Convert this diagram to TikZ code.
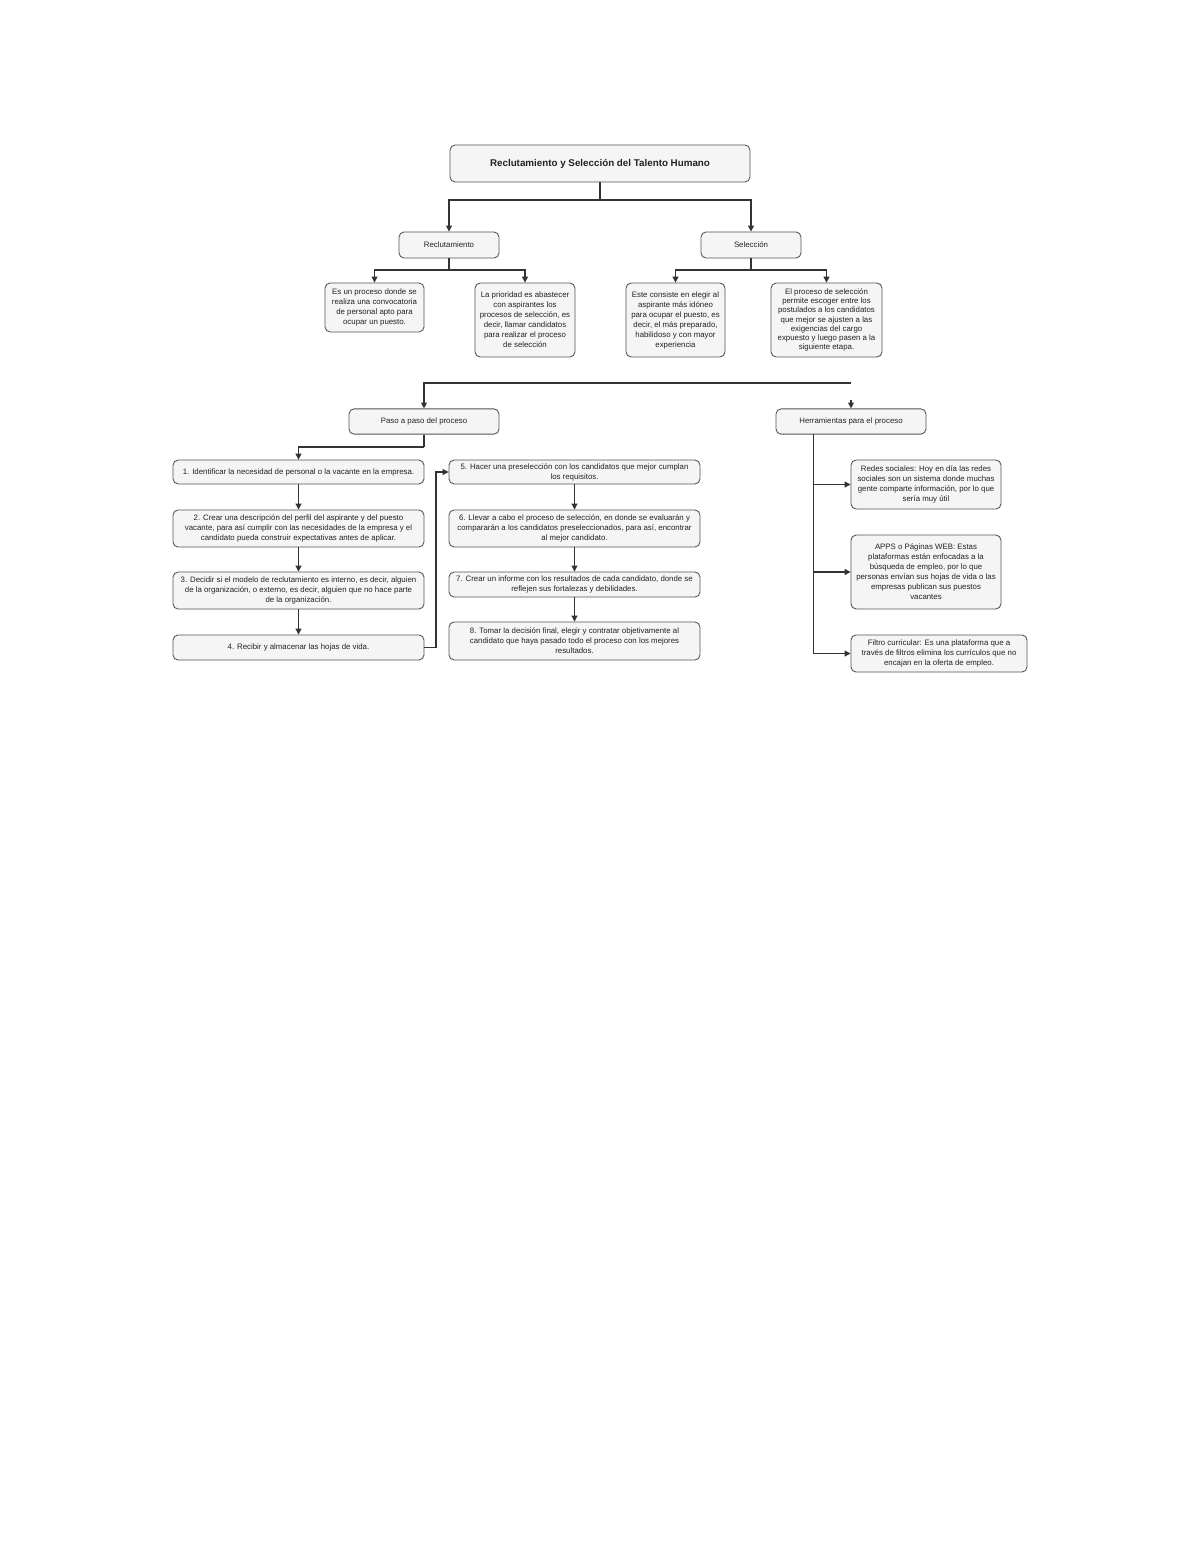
\documentclass[tikz,border=0pt]{standalone}
\usepackage{fontspec}
\setmainfont{Liberation Sans}
\usetikzlibrary{arrows.meta,calc}
\definecolor{boxfill}{HTML}{F5F5F5}
\definecolor{boxline}{HTML}{555555}
\definecolor{lncol}{HTML}{333333}
\definecolor{txtcol}{HTML}{222222}
\tikzset{
  pbox/.style={draw=boxline, fill=boxfill, rounded corners=2.6pt, line width=0.45pt,
    align=center, text=txtcol, inner sep=1pt, font=\fontsize{4}{5.1}\selectfont},
  conn/.style={draw=lncol, line width=0.55pt},
  arr/.style={conn, -{Triangle[length=3pt,width=3pt]}}
}
\begin{document}
\begin{tikzpicture}[x=0.51pt,y=-0.51pt]
\useasboundingbox (0,0) rectangle (1200,1553);
\fill[white] (0,0) rectangle (1200,1553);

% Level 0
\node[pbox, minimum width=153pt, minimum height=18.9pt, font=\fontsize{5}{6}\selectfont\bfseries] (title) at (600,163.5) {Reclutamiento y Selección del Talento Humano};

% Level 1
\node[pbox, minimum width=51pt, minimum height=13.3pt] (recl) at (449,245) {Reclutamiento};
\node[pbox, minimum width=51pt, minimum height=13.3pt] (sele) at (751,245) {Selección};

% Level 2
\node[pbox, minimum width=50.5pt, minimum height=25pt] (ra) at (374.5,307.5)
  {Es un proceso donde se\\realiza una convocatoria\\de personal apto para\\ocupar un puesto.};
\node[pbox, minimum width=51pt, minimum height=37.7pt] (rb) at (525,320)
  {La prioridad es abastecer\\con aspirantes los\\procesos de selección, es\\decir, llamar candidatos\\para realizar el proceso\\de selección};
\node[pbox, minimum width=50.5pt, minimum height=37.7pt] (sc) at (675.5,320)
  {Este consiste en elegir al\\aspirante más idóneo\\para ocupar el puesto, es\\decir, el más preparado,\\habilidoso y con mayor\\experiencia};
\node[pbox, minimum width=56.6pt, minimum height=37.7pt, font=\fontsize{4}{4.7}\selectfont] (sd) at (826.5,320)
  {El proceso de selección\\permite escoger entre los\\postulados a los candidatos\\que mejor se ajusten a las\\exigencias del cargo\\expuesto y luego pasen a la\\siguiente etapa.};

% Level 3
\node[pbox, minimum width=76.5pt, minimum height=12.9pt] (paso) at (424,421.5) {Paso a paso del proceso};
\node[pbox, minimum width=76.5pt, minimum height=12.9pt] (herr) at (851,421.5) {Herramientas para el proceso};

% Steps 1-4
\node[pbox, minimum width=128pt, minimum height=12.2pt] (s1) at (298.5,472)
  {1. Identificar la necesidad de personal o la vacante en la empresa.};
\node[pbox, minimum width=128pt, minimum height=18.9pt] (s2) at (298.5,528.5)
  {2. Crear una descripción del perfil del aspirante y del puesto\\vacante, para así cumplir con las necesidades de la empresa y el\\candidato pueda construir expectativas antes de aplicar.};
\node[pbox, minimum width=128pt, minimum height=18.9pt] (s3) at (298.5,590.5)
  {3. Decidir si el modelo de reclutamiento es interno, es decir, alguien\\de la organización, o externo, es decir, alguien que no hace parte\\de la organización.};
\node[pbox, minimum width=128pt, minimum height=12.8pt] (s4) at (298.5,647.5)
  {4. Recibir y almacenar las hojas de vida.};

% Steps 5-8
\node[pbox, minimum width=128pt, minimum height=12.2pt] (s5) at (574.5,472)
  {5. Hacer una preselección con los candidatos que mejor cumplan\\los requisitos.};
\node[pbox, minimum width=128pt, minimum height=18.9pt] (s6) at (574.5,528.5)
  {6. Llevar a cabo el proceso de selección, en donde se evaluarán y\\compararán a los candidatos preseleccionados, para así, encontrar\\al mejor candidato.};
\node[pbox, minimum width=128pt, minimum height=12.8pt] (s7) at (574.5,584.5)
  {7. Crear un informe con los resultados de cada candidato, donde se\\reflejen sus fortalezas y debilidades.};
\node[pbox, minimum width=128pt, minimum height=19.4pt] (s8) at (574.5,641)
  {8. Tomar la decisión final, elegir y contratar objetivamente al\\candidato que haya pasado todo el proceso con los mejores\\resultados.};

% Tools
\node[pbox, minimum width=76.5pt, minimum height=25pt] (redes) at (926,484.5)
  {Redes sociales: Hoy en día las redes\\sociales son un sistema donde muchas\\gente comparte información, por lo que\\sería muy útil};
\node[pbox, minimum width=76.5pt, minimum height=37.7pt] (apps) at (926,572)
  {APPS o Páginas WEB: Estas\\plataformas están enfocadas a la\\búsqueda de empleo, por lo que\\personas envían sus hojas de vida o las\\empresas publican sus puestos\\vacantes};
\node[pbox, minimum width=89.8pt, minimum height=18.9pt] (filtro) at (939,653.5)
  {Filtro curricular: Es una plataforma que a\\través de filtros elimina los currículos que no\\encajan en la oferta de empleo.};

% Junction coordinates
\coordinate (j0) at (600,200);
\coordinate (jr) at (449,270);
\coordinate (js) at (751,270);
\coordinate (hr) at (851,383);
\coordinate (hs) at (851,400);
\coordinate (jp) at (424,447);
\coordinate (jb) at (436,647.5);
\coordinate (hx) at (813.5,434);

% Connectors
\draw[conn] (title.south) -- (j0);
\draw[arr] (j0) -| (recl.north);
\draw[arr] (j0) -| (sele.north);

\draw[conn] (recl.south) -- (jr);
\draw[arr] (jr) -| (ra.north);
\draw[arr] (jr) -| (rb.north);

\draw[conn] (sele.south) -- (js);
\draw[arr] (js) -| (sc.north);
\draw[arr] (js) -| (sd.north);

\draw[arr] (hr) -| (paso.north);
\draw[arr] (hs) -- (herr.north);

\draw[conn] (paso.south) -- (jp);
\draw[arr] (jp) -| (s1.north);
\draw[arr] (s1) -- (s2);
\draw[arr] (s2) -- (s3);
\draw[arr] (s3) -- (s4);
\draw[conn] (s4.east) -- (jb);
\draw[arr] (jb) |- (s5.west);
\draw[arr] (s5) -- (s6);
\draw[arr] (s6) -- (s7);
\draw[arr] (s7) -- (s8);

\draw[arr] (hx) |- (redes.west);
\draw[arr] (hx) |- (apps.west);
\draw[arr] (hx) |- (filtro.west);
\end{tikzpicture}
\end{document}
